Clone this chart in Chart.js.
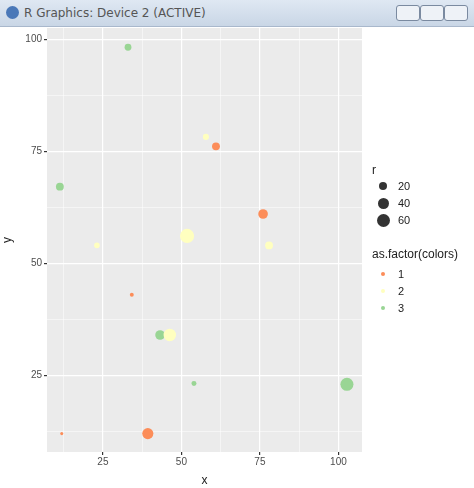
<!DOCTYPE html>
<html><head><meta charset="utf-8">
<script src="https://cdn.jsdelivr.net/npm/chart.js@4/dist/chart.umd.min.js"></script>
<style>
body{margin:0;width:474px;height:488px;overflow:hidden;background:#fff;font-family:"Liberation Sans",Arial,sans-serif;position:relative}
#bar{position:absolute;left:0;top:0;width:474px;height:26px;background:linear-gradient(#dfe8f3,#c9d6e6);border-bottom:1px solid #a9b8cc;font:12px "DejaVu Sans",sans-serif;color:#555}
#bar span{position:absolute;left:24px;top:6px}
#ic{position:absolute;left:6px;top:6px;width:13px;height:13px;border-radius:50%;background:#4a78b8}
.btn{position:absolute;top:5px;width:22px;height:14px;border:1px solid #7a8aa0;border-radius:3px;background:#eef2f7}
#c{position:absolute;left:0;top:0}
.lg{position:absolute;font-size:11px;color:#222}
.dot{position:absolute;border-radius:50%}
</style></head><body>
<div id="bar"><div id="ic"></div><span>R Graphics: Device 2 (ACTIVE)</span>
<div class="btn" style="left:396px"></div><div class="btn" style="left:420px"></div><div class="btn" style="left:444px"></div></div>
<canvas id="c" width="474" height="488"></canvas>
<div class="lg" style="left:372px;top:163px;font-size:12px">r</div>
<div class="dot" style="left:379px;top:182px;width:8px;height:8px;background:#333"></div><div class="lg" style="left:398px;top:180px">20</div>
<div class="dot" style="left:377.5px;top:197.5px;width:11px;height:11px;background:#333"></div><div class="lg" style="left:398px;top:197px">40</div>
<div class="dot" style="left:376.5px;top:213.5px;width:13px;height:13px;background:#333"></div><div class="lg" style="left:398px;top:214px">60</div>
<div class="lg" style="left:372px;top:247px;font-size:12px">as.factor(colors)</div>
<div class="dot" style="left:381px;top:272px;width:4px;height:4px;background:#FC8D59"></div><div class="lg" style="left:398px;top:268px">1</div>
<div class="dot" style="left:381px;top:289px;width:4px;height:4px;background:#FFFFBF"></div><div class="lg" style="left:398px;top:285px">2</div>
<div class="dot" style="left:381px;top:306px;width:4px;height:4px;background:#99D594"></div><div class="lg" style="left:398px;top:302px">3</div>
<script>
const xs=[33,57.8,61,11.3,76,51.8,77.9,23.1,34.2,43.2,46.3,54,102.7,39.3,11.9];
const ys=[98.2,78.2,76.1,67.1,61,56.1,54,54,43,34,34,23.2,23,12,12];
const rs=[15,12,20,20,30,65,20,10,5,30,50,8,55,40,3];
const groups=[3,2,1,3,1,2,2,2,1,3,2,3,3,1,1];
const palette={1:"#FC8D59",2:"#FFFFBF",3:"#99D594"};
const xTicks=[25,50,75,100], yTicks=[25,50,75,100];
const pts=xs.map((x,i)=>({x:x,y:ys[i],r:rs[i]}));
function ticksFor(min,max){const t=[];for(let v=Math.ceil(min/12.5)*12.5;v<=max;v+=12.5)t.push({value:v});return t;}
const isMaj=c=>c.tick&&c.tick.value%25===0;
const grid={color:'#fff',lineWidth:c=>isMaj(c)?1.2:0.5,drawTicks:true,tickLength:3,tickColor:c=>isMaj(c)?'#333':'rgba(0,0,0,0)'};
new Chart(document.getElementById('c'),{
 type:'scatter',
 data:{datasets:[{data:pts,backgroundColor:groups.map(g=>palette[g]),borderWidth:0,
  pointRadius:c=>0.88*Math.sqrt(c.raw.r),pointHoverRadius:c=>0.88*Math.sqrt(c.raw.r)}]},
 options:{responsive:false,animation:false,events:[],
  layout:{padding:{left:0,top:28,right:112,bottom:0}},
  plugins:{legend:{display:false},tooltip:{enabled:false}},
  scales:{
   x:{type:'linear',min:7.2,max:107.5,grid:grid,border:{display:false},
    afterBuildTicks:s=>{s.ticks=ticksFor(7.2,107.5)},
    afterFit:s=>{s.height=36},
    ticks:{color:'#4d4d4d',font:{size:10},padding:1,callback:v=>xTicks.includes(v)?v:''},
    title:{display:true,text:'x',color:'#222',font:{size:12},padding:0}},
   y:{type:'linear',min:7.9,max:102.5,grid:grid,border:{display:false},
    afterBuildTicks:s=>{s.ticks=ticksFor(7.9,102.5)},
    afterFit:s=>{s.width=47},
    ticks:{color:'#4d4d4d',font:{size:10},padding:2,callback:v=>yTicks.includes(v)?v:''},
    title:{display:true,text:'y',color:'#222',font:{size:12},padding:0}}
  }},
 plugins:[{id:'bg',beforeDraw:ch=>{const a=ch.chartArea,x=ch.ctx;x.save();x.fillStyle='#EBEBEB';x.fillRect(a.left,a.top,a.right-a.left,a.bottom-a.top);x.restore();}}]
});
</script></body></html>
